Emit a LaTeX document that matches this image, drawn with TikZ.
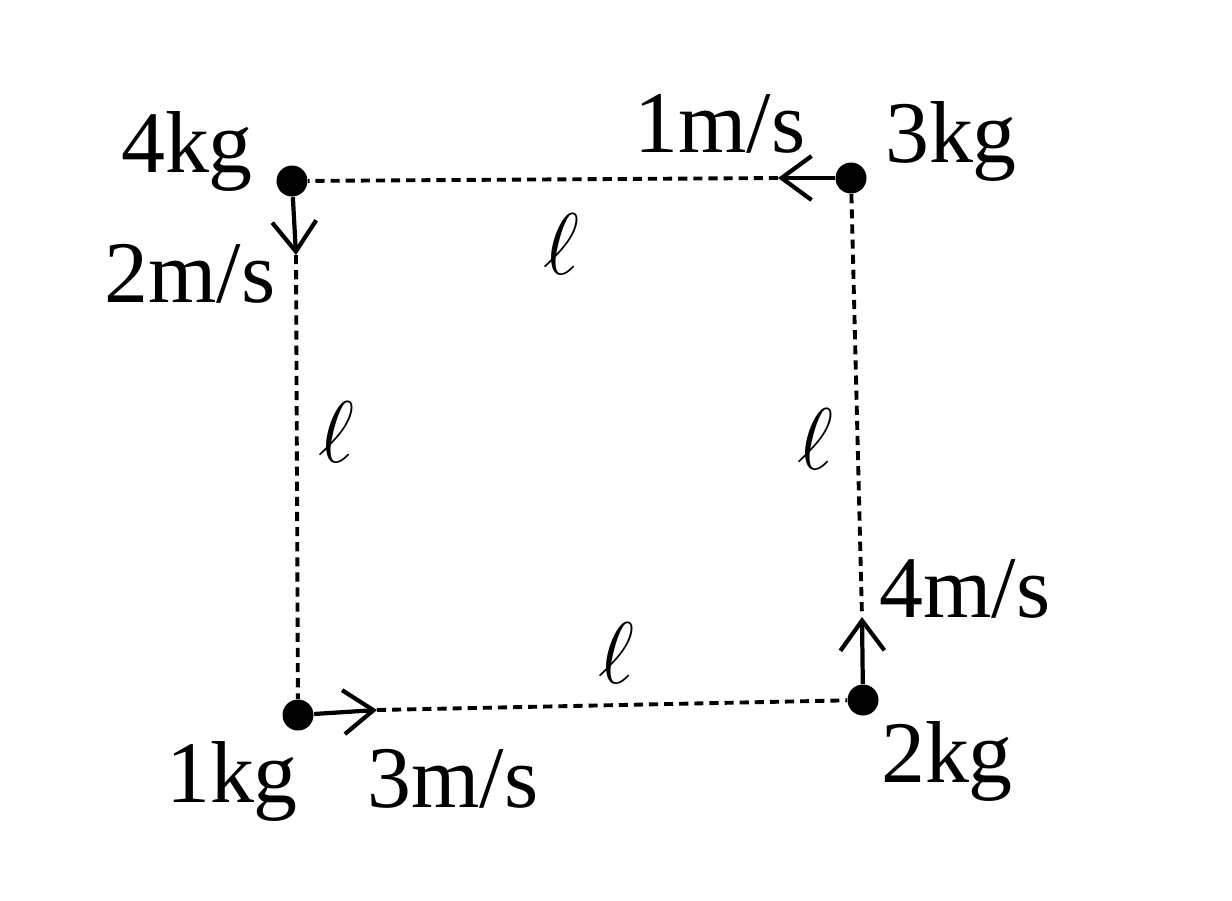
\documentclass[tikz,border=0pt]{standalone}
\usepackage{fontspec}
\setmainfont{Liberation Serif}
\usetikzlibrary{arrows.meta,positioning}
\tikzset{
  mass/.style={circle,fill=black,inner sep=0pt,minimum size=0.31cm},
  velocity/.style={line width=1.2pt,-{Straight Barb[length=3mm,width=4.4mm,line width=1.2pt]}},
  rod/.style={line width=1.1pt,dash pattern=on 2.6pt off 1.7pt},
  lbl/.style={font=\fontsize{25}{30}\selectfont,inner sep=0pt,anchor=base},
  len/.style={font=\fontsize{23}{28}\selectfont,inner sep=0pt}
}
\begin{document}
\begin{tikzpicture}
                \useasboundingbox (0,0) rectangle (12.32,-9);
                \node[mass] (m4) at (2.92,-1.81) {};
                \node[mass] (m3) at (8.51,-1.78) {};
                \node[mass] (m2) at (8.63,-7.00) {};
                \node[mass] (m1) at (2.98,-7.15) {};
                \coordinate (v4) at (2.96,-2.55);
                \coordinate (v3) at (7.78,-1.78);
                \coordinate (v2) at (8.62,-6.17);
                \coordinate (v1) at (3.77,-7.10);

                \node[lbl] (k4) at (1.87,-1.72) {4kg};
                \node[lbl] (k3) at (9.51,-1.62) {3kg};
                \node[lbl] (k2) at (9.47,-7.82) {2kg};
                \node[lbl] (k1) at (2.32,-8.02) {1kg};
                \node[lbl] (s4) at (1.90,-3.02) {2m/s};
                \node[lbl] (s3) at (7.20,-1.52) {1m/s};
                \node[lbl] (s2) at (9.65,-6.17) {4m/s};
                \node[lbl] (s1) at (4.53,-8.07) {3m/s};

                \draw[velocity] (m4) -- (v4);
                \draw[velocity] (m3) -- (v3);
                \draw[velocity] (m2) -- (v2);
                \draw[velocity] (m1) -- (v1);

                \draw[rod] (v3) to node[len,pos=0.46,below=0.32cm] {\(\ell\)} (m4);
                \draw[rod] (v4) to node[len,pos=0.40,right=0.2cm] {\(\ell\)} (m1);
                \draw[rod] (m3) to node[len,pos=0.58,left=0.22cm] {\(\ell\)} (v2);
                \draw[rod] (v1) to node[len,pos=0.51,above=0.2cm] {\(\ell\)} (m2);
            \end{tikzpicture}
\end{document}
